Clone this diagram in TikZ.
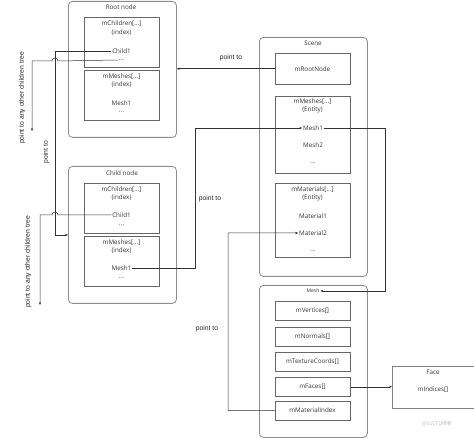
\documentclass[tikz,border=0pt]{standalone}
\usepackage{fontspec}
\setmainfont{Open Sans}
\newfontfamily\labelfont{Liberation Sans}
\newfontfamily\cjkfont{Noto Sans CJK SC}
\usetikzlibrary{arrows.meta}
\begin{document}
\begin{tikzpicture}[x=1pt,y=1pt,yscale=-1,xscale=1,
    outerbox/.style={draw=black!45,line width=0.8pt,rounded corners=4pt,anchor=north west,inner sep=0pt},
    innerbox/.style={draw=black!60,line width=0.5pt,anchor=north west,inner sep=0pt},
    txt/.style={inner sep=0.75pt,text=black!80,font=\fontsize{6.3}{7}\selectfont},
    pointlbl/.style={inner sep=0.75pt,text=black!85,font=\labelfont\fontsize{6.8}{8}\selectfont},
    link/.style={draw=black!80,line width=0.5pt},
    tip/.style={-{Stealth[length=3pt,width=2.4pt]}}]
\useasboundingbox (0,0) rectangle (474,438);

% Root node
\node[outerbox,minimum width=108,minimum height=136] (rootbox) at (68,1) {};
\node[txt] (roottitle) at (121,7) {Root node};
\node[innerbox,minimum width=75,minimum height=50] (rootch) at (84,17) {};
\node[txt] at (121.5,24) {mChildren[...]};
\node[txt] at (121.5,33) {(index)};
\node[txt] (rootchild) at (121.5,51) {Child1};
\node[txt] (rootdots) at (121.5,60) {...};
\node[innerbox,minimum width=75,minimum height=50] (rootme) at (84,70) {};
\node[txt] at (121.5,77) {mMeshes[...]};
\node[txt] at (121.5,85) {(index)};
\node[txt] at (121.5,103) {Mesh1};
\node[txt] at (121.5,112) {...};

% Child node
\node[outerbox,minimum width=108,minimum height=137] (childbox) at (68,166) {};
\node[txt] at (122,173) {Child node};
\node[innerbox,minimum width=75,minimum height=50] (childch) at (84,183) {};
\node[txt] at (121.5,190) {mChildren[...]};
\node[txt] at (121.5,198) {(index)};
\node[txt] (childchild) at (121.5,215) {Child1};
\node[txt] at (121.5,225) {...};
\node[innerbox,minimum width=75,minimum height=50] (childme) at (84,236) {};
\node[txt] at (121.5,243) {mMeshes[...]};
\node[txt] at (121.5,251) {(index)};
\node[txt] (childmesh) at (121.5,268) {Mesh1};
\node[txt] at (121.5,278) {...};

% Scene
\node[outerbox,minimum width=108,minimum height=239] (scenebox) at (259,37) {};
\node[txt] at (313,43) {Scene};
\node[innerbox,minimum width=75,minimum height=31] (rootnode) at (275,53) {};
\node[txt] at (312.5,69) {mRootNode};
\node[innerbox,minimum width=75,minimum height=77] (scenemeshes) at (275,96) {};
\node[txt] at (312.5,102) {mMeshes[...]};
\node[txt] at (312.5,110) {(Entity)};
\node[txt] (scenemesh) at (313,128) {Mesh1};
\node[txt] at (313,145) {Mesh2};
\node[txt] at (313,163) {...};
\node[innerbox,minimum width=75,minimum height=74] (scenemats) at (275,183) {};
\node[txt] at (312.5,190) {mMaterials[...]};
\node[txt] at (312.5,198) {(Entity)};
\node[txt] at (313,216) {Material1};
\node[txt] (material) at (313,233) {Material2};
\node[txt] at (313,251) {...};

% Mesh
\node[outerbox,minimum width=108,minimum height=152] (meshbox) at (259,285) {};
\node[txt,font=\fontsize{5}{6}\selectfont] (meshtitle) at (313,291) {Mesh};
\node[innerbox,minimum width=75,minimum height=19] (vert) at (275,301) {};
\node[txt] at (312.5,310.5) {mVertices[]};
\node[innerbox,minimum width=75,minimum height=19] (norm) at (275,327) {};
\node[txt] at (312.5,336.5) {mNormals[]};
\node[innerbox,minimum width=75,minimum height=19] (texc) at (275,352) {};
\node[txt] at (312.5,361.5) {mTextureCoords[]};
\node[innerbox,minimum width=75,minimum height=19] (faces) at (275,377) {};
\node[txt] at (312.5,386.5) {mFaces[]};
\node[innerbox,minimum width=75,minimum height=19] (matidx) at (275,401) {};
\node[txt] at (312.5,410.5) {mMaterialIndex};

% Face
\node[innerbox,draw=black!50,minimum width=82,minimum height=42] (facebox) at (392,366) {};
\node[txt] at (433,372) {Face};
\node[txt] at (433,390) {mIndices[]};

% point to labels
\node[pointlbl] at (231,58) {point to};
\node[pointlbl] at (210,199) {point to};
\node[pointlbl] at (207,329) {point to};
\node[pointlbl,rotate=90] at (46,152) {point to};
\node[pointlbl,rotate=90] at (22,98) {point to any other children tree};
\node[pointlbl,rotate=90] at (28,262) {point to any other children tree};

% connectors
\draw[link,tip] (rootnode.west) -- (rootbox.east |- rootnode.west);
\coordinate (childin) at (68,235);
\draw[link,tip] (rootchild.west) -- (55,51) -- (55,235) -- (childin);
\draw[link,tip] (rootdots.west) -- (58,61) .. controls (58,57) and (52,57) .. (52,61) -- (32,61) -- (32,131);
\draw[link,tip] (childchild.west) -- (58,215) .. controls (58,211) and (52,211) .. (52,215) -- (40,215) -- (40,305);
\draw[link,tip] (childmesh.east) -- (195,268) -- (195,128) -- (scenemesh.west);
\draw[link,tip] (scenemesh.east) -- (385,128) -- (385,291) -- (meshtitle.east);
\draw[link,tip] (matidx.west) -- (228,410.5) -- (228,233) -- (material.west);
\draw[link,tip] (faces.east) -- (facebox.west |- faces.east);

% watermark
\node[inner sep=0pt,text=black!25,font=\cjkfont\fontsize{5}{6}\selectfont] at (437,424) {@51CTO博客};
\end{tikzpicture}
\end{document}
